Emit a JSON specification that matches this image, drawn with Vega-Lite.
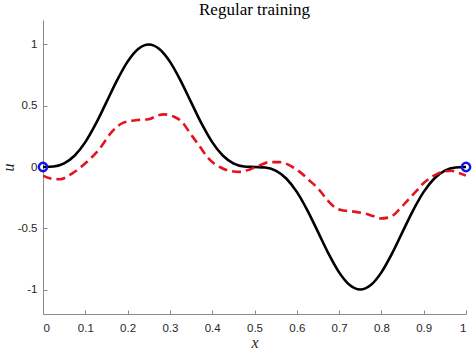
{
  "$schema": "https://vega.github.io/schema/vega-lite/v6.json",
  "width": 423,
  "height": 294,
  "autosize": "none",
  "padding": {"left": 43, "top": 20, "right": 8, "bottom": 37},
  "title": {"text": "Regular training", "font": "Liberation Serif", "fontSize": 17, "fontWeight": "normal", "color": "#000", "offset": 7, "dy": 6},
  "config": {
    "view": {"stroke": null},
    "axis": {"grid": false, "domainColor": "#8a8a8a", "tickColor": "#8a8a8a", "labelColor": "#262626", "labelFont": "Liberation Sans", "labelFontSize": 11.5, "tickSize": -4, "titleFont": "Liberation Serif", "titleFontStyle": "italic", "titleFontWeight": "normal", "titleFontSize": 16, "titleColor": "#262626"}
  },
  "datasets": {
    "curves": [
      {"s": "exact", "x": 0, "u": 0},
      {"s": "exact", "x": 0.025, "u": 0.0038},
      {"s": "exact", "x": 0.05, "u": 0.0295},
      {"s": "exact", "x": 0.075, "u": 0.0936},
      {"s": "exact", "x": 0.1, "u": 0.2031},
      {"s": "exact", "x": 0.125, "u": 0.3536},
      {"s": "exact", "x": 0.15, "u": 0.5295},
      {"s": "exact", "x": 0.175, "u": 0.7073},
      {"s": "exact", "x": 0.2, "u": 0.8602},
      {"s": "exact", "x": 0.225, "u": 0.9635},
      {"s": "exact", "x": 0.25, "u": 1},
      {"s": "exact", "x": 0.275, "u": 0.9635},
      {"s": "exact", "x": 0.3, "u": 0.8602},
      {"s": "exact", "x": 0.325, "u": 0.7073},
      {"s": "exact", "x": 0.35, "u": 0.5295},
      {"s": "exact", "x": 0.375, "u": 0.3536},
      {"s": "exact", "x": 0.4, "u": 0.2031},
      {"s": "exact", "x": 0.425, "u": 0.0936},
      {"s": "exact", "x": 0.45, "u": 0.0295},
      {"s": "exact", "x": 0.475, "u": 0.0038},
      {"s": "exact", "x": 0.5, "u": 0},
      {"s": "exact", "x": 0.525, "u": -0.0038},
      {"s": "exact", "x": 0.55, "u": -0.0295},
      {"s": "exact", "x": 0.575, "u": -0.0936},
      {"s": "exact", "x": 0.6, "u": -0.2031},
      {"s": "exact", "x": 0.625, "u": -0.3536},
      {"s": "exact", "x": 0.65, "u": -0.5295},
      {"s": "exact", "x": 0.675, "u": -0.7073},
      {"s": "exact", "x": 0.7, "u": -0.8602},
      {"s": "exact", "x": 0.725, "u": -0.9635},
      {"s": "exact", "x": 0.75, "u": -1},
      {"s": "exact", "x": 0.775, "u": -0.9635},
      {"s": "exact", "x": 0.8, "u": -0.8602},
      {"s": "exact", "x": 0.825, "u": -0.7073},
      {"s": "exact", "x": 0.85, "u": -0.5295},
      {"s": "exact", "x": 0.875, "u": -0.3536},
      {"s": "exact", "x": 0.9, "u": -0.2031},
      {"s": "exact", "x": 0.925, "u": -0.0936},
      {"s": "exact", "x": 0.95, "u": -0.0295},
      {"s": "exact", "x": 0.975, "u": -0.0038},
      {"s": "exact", "x": 1, "u": 0},
      {"s": "pred", "x": 0, "u": -0.07},
      {"s": "pred", "x": 0.02, "u": -0.095},
      {"s": "pred", "x": 0.04, "u": -0.1},
      {"s": "pred", "x": 0.07, "u": -0.05},
      {"s": "pred", "x": 0.1, "u": 0.03},
      {"s": "pred", "x": 0.134, "u": 0.15},
      {"s": "pred", "x": 0.161, "u": 0.28},
      {"s": "pred", "x": 0.189, "u": 0.36},
      {"s": "pred", "x": 0.228, "u": 0.385},
      {"s": "pred", "x": 0.25, "u": 0.39},
      {"s": "pred", "x": 0.271, "u": 0.42},
      {"s": "pred", "x": 0.285, "u": 0.43},
      {"s": "pred", "x": 0.31, "u": 0.41},
      {"s": "pred", "x": 0.328, "u": 0.37},
      {"s": "pred", "x": 0.347, "u": 0.28},
      {"s": "pred", "x": 0.37, "u": 0.17},
      {"s": "pred", "x": 0.394, "u": 0.06},
      {"s": "pred", "x": 0.418, "u": 0.0},
      {"s": "pred", "x": 0.44, "u": -0.03},
      {"s": "pred", "x": 0.465, "u": -0.04},
      {"s": "pred", "x": 0.489, "u": -0.02},
      {"s": "pred", "x": 0.51, "u": 0.01},
      {"s": "pred", "x": 0.536, "u": 0.04},
      {"s": "pred", "x": 0.56, "u": 0.04},
      {"s": "pred", "x": 0.59, "u": 0.0},
      {"s": "pred", "x": 0.607, "u": -0.04},
      {"s": "pred", "x": 0.63, "u": -0.11},
      {"s": "pred", "x": 0.654, "u": -0.19},
      {"s": "pred", "x": 0.672, "u": -0.27},
      {"s": "pred", "x": 0.69, "u": -0.33},
      {"s": "pred", "x": 0.71, "u": -0.355},
      {"s": "pred", "x": 0.725, "u": -0.36},
      {"s": "pred", "x": 0.761, "u": -0.38},
      {"s": "pred", "x": 0.78, "u": -0.4},
      {"s": "pred", "x": 0.797, "u": -0.42},
      {"s": "pred", "x": 0.82, "u": -0.41},
      {"s": "pred", "x": 0.844, "u": -0.34},
      {"s": "pred", "x": 0.86, "u": -0.28},
      {"s": "pred", "x": 0.879, "u": -0.21},
      {"s": "pred", "x": 0.9, "u": -0.13},
      {"s": "pred", "x": 0.915, "u": -0.09},
      {"s": "pred", "x": 0.93, "u": -0.06},
      {"s": "pred", "x": 0.95, "u": -0.035},
      {"s": "pred", "x": 0.965, "u": -0.03},
      {"s": "pred", "x": 0.98, "u": -0.045},
      {"s": "pred", "x": 1, "u": -0.07}
    ],
    "bc": [
      {"x": 0, "u": 0},
      {"x": 1, "u": 0}
    ]
  },
  "encoding": {
    "x": {"field": "x", "type": "quantitative", "scale": {"domain": [0, 1], "nice": false, "zero": false}, "axis": {"values": [0, 0.1, 0.2, 0.3, 0.4, 0.5, 0.6, 0.7, 0.8, 0.9, 1], "format": "~g", "title": "x", "labelPadding": 12, "titlePadding": 1, "labelExpr": "replace(datum.label, '−', '-')"}},
    "y": {"field": "u", "type": "quantitative", "scale": {"domain": [-1.2, 1.2], "nice": false, "zero": false}, "axis": {"values": [-1, -0.5, 0, 0.5, 1], "format": "~g", "title": "u", "labelPadding": 10, "titlePadding": 1, "labelExpr": "replace(datum.label, '−', '-')"}}
  },
  "layer": [
    {
      "data": {"name": "curves"},
      "transform": [{"filter": "datum.s === 'exact'"}],
      "mark": {"type": "line", "color": "#000000", "strokeWidth": 2.6, "interpolate": "monotone", "clip": true}
    },
    {
      "data": {"name": "curves"},
      "transform": [{"filter": "datum.s === 'pred'"}],
      "mark": {"type": "line", "color": "#e3141f", "strokeWidth": 2.6, "strokeDash": [9, 5], "interpolate": "monotone", "clip": true}
    },
    {
      "data": {"name": "bc"},
      "mark": {"type": "point", "shape": "circle", "filled": false, "color": "#1414e6", "strokeWidth": 2.4, "size": 70, "opacity": 1}
    }
  ]
}
